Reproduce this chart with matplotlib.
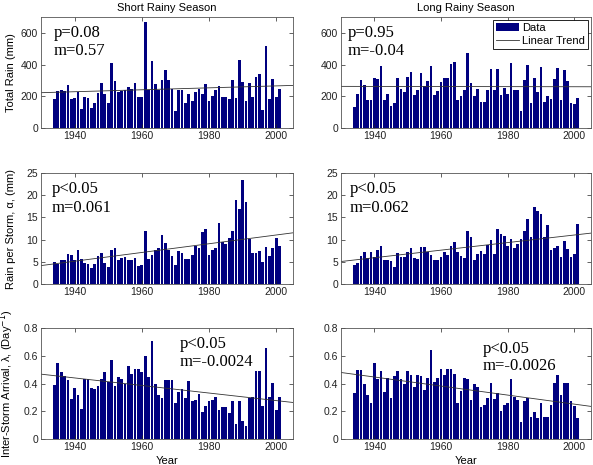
import numpy as np
import matplotlib
matplotlib.use("Agg")
import matplotlib.pyplot as plt
from matplotlib.patches import Patch
from matplotlib.lines import Line2D

plt.rcParams['font.family'] = ['Liberation Sans', 'DejaVu Sans']

years = np.arange(1934, 2002)

short_total = [181, 234, 240, 234, 270, 181, 187, 230, 117, 198, 191, 128, 155, 223,
               281, 213, 160, 411, 294, 228, 234, 240, 260, 249, 281, 196, 196,
               670, 240, 421, 277, 240, 302, 366, 302, 249, 106, 238, 238, 155,
               217, 170, 230, 249, 213, 277, 168, 202, 238, 266, 194, 194, 181,
               304, 189, 430, 289, 168, 283, 198, 323, 338, 111, 517, 181, 309,
               198, 249]
long_total = [131, 216, 300, 270, 178, 174, 317, 306, 392, 178, 216, 139, 156, 317,
              246, 225, 324, 354, 206, 242, 349, 268, 296, 392, 210, 231, 289,
              317, 317, 403, 414, 178, 204, 242, 472, 281, 199, 246, 161, 161,
              242, 375, 242, 371, 210, 253, 214, 409, 238, 238, 109, 302, 397,
              156, 315, 227, 382, 161, 204, 182, 311, 377, 178, 364, 296, 156,
              152, 189]
short_alpha = [4.85, 4.6, 5.4, 5.4, 6.7, 6.5, 5.4, 7.7, 5.6, 4.7, 4.5, 3.6, 4.5, 6.2,
               6.9, 4.7, 3.9, 7.7, 8.2, 5.4, 5.8, 6.0, 5.4, 5.4, 5.8, 4.1, 4.3,
               11.9, 5.6, 6.5, 7.6, 8.0, 11.0, 9.2, 7.6, 6.3, 4.3, 7.5, 7.0, 5.6,
               5.6, 6.6, 8.6, 8.2, 11.7, 12.3, 6.6, 7.7, 8.2, 13.8, 9.5, 9.0, 10.3,
               11.9, 18.9, 16.8, 23.4, 18.4, 10.2, 6.9, 6.9, 7.5, 4.85, 8.4, 6.3,
               8.2, 10.3, 8.6]
long_alpha = [4.2, 4.7, 6.4, 7.3, 5.8, 7.1, 6.1, 7.6, 8.6, 5.5, 5.3, 5.1, 3.9, 7.0,
              6.1, 6.1, 7.2, 8.1, 5.8, 5.6, 8.4, 8.3, 7.3, 6.6, 5.5, 5.5, 6.0,
              7.3, 6.6, 8.5, 9.4, 7.3, 6.4, 5.8, 11.9, 10.6, 5.5, 6.8, 7.5, 6.7,
              8.7, 9.8, 6.7, 12.5, 11.3, 10.9, 8.5, 10.2, 8.1, 8.9, 10.2, 11.9,
              14.6, 10.5, 17.3, 16.4, 15.7, 10.5, 13.4, 7.7, 8.1, 8.6, 6.0, 9.6,
              7.9, 6.1, 6.8, 13.6]
short_lambda = [0.39, 0.548, 0.485, 0.456, 0.427, 0.291, 0.371, 0.315, 0.218, 0.436,
                0.436, 0.371, 0.359, 0.383, 0.436, 0.485, 0.412, 0.570, 0.383, 0.448,
                0.436, 0.40, 0.524, 0.468, 0.504, 0.504, 0.485, 0.60, 0.448, 0.703,
                0.395, 0.315, 0.293, 0.427, 0.427, 0.427, 0.262, 0.339, 0.359, 0.293,
                0.415, 0.274, 0.281, 0.327, 0.196, 0.238, 0.274, 0.281, 0.303, 0.206,
                0.230, 0.230, 0.184, 0.274, 0.109, 0.274, 0.128, 0.092, 0.298, 0.303,
                0.492, 0.492, 0.238, 0.657, 0.303, 0.402, 0.206, 0.303]
long_lambda = [0.33, 0.494, 0.494, 0.393, 0.316, 0.263, 0.549, 0.429, 0.487, 0.342,
               0.439, 0.294, 0.451, 0.487, 0.434, 0.393, 0.487, 0.458, 0.373, 0.463,
               0.451, 0.354, 0.441, 0.639, 0.414, 0.439, 0.506, 0.458, 0.506, 0.506,
               0.470, 0.260, 0.349, 0.441, 0.429, 0.284, 0.393, 0.378, 0.229, 0.248,
               0.294, 0.405, 0.287, 0.330, 0.205, 0.246, 0.260, 0.429, 0.306, 0.284,
               0.120, 0.272, 0.294, 0.161, 0.198, 0.152, 0.260, 0.161, 0.161, 0.248,
               0.402, 0.458, 0.316, 0.402, 0.402, 0.272, 0.241, 0.152]

titles = ["Short Rainy Season", "Long Rainy Season"]
ylabels = ["Total Rain (mm)", "Rain per Storm, α, (mm)",
           "Inter-Storm Arrival, λ, (Day$^{-1}$)"]
yticks = [[0, 200, 400, 600], [0, 5, 10, 15, 20, 25], [0, 0.2, 0.4, 0.6, 0.8]]
yticklabels = [["0", "200", "400", "600"], ["0", "5", "10", "15", "20", "25"],
               ["0", "0.2", "0.4", "0.6", "0.8"]]
ylims = [(0, 700), (0, 25), (0, 0.8)]
xticks = [1940, 1960, 1980, 2000]
xlim = (1930, 2005)
stats = [[("p=0.08", "m=0.57"), ("p=0.95", "m=-0.04")],
         [("p<0.05", "m=0.061"), ("p<0.05", "m=0.062")],
         [("p<0.05", "m=-0.0024"), ("p<0.05", "m=-0.0026")]]
data = [[short_total, long_total], [short_alpha, long_alpha],
        [short_lambda, long_lambda]]

# text placement (axes fraction): x, baseline1, baseline2
text_pos = [[(0.049, 0.82, 0.658), (0.028, 0.82, 0.658)],
            [(0.043, 0.82, 0.65), (0.033, 0.82, 0.65)],
            [(0.549, 0.817, 0.658), (0.567, 0.778, 0.625)]]

W, H = 593, 465
fig = plt.figure(figsize=(W / 100, H / 100), dpi=100)
col_left = [41 / W, 341 / W]
col_w = [252 / W, 250 / W]
row_top = [17, 173, 328]
row_h = 111

bar_color = "#00007F"
for r in range(3):
    for c in range(2):
        ax = fig.add_axes([col_left[c], 1 - (row_top[r] + row_h) / H,
                           col_w[c], row_h / H])
        vals = np.array(data[r][c], dtype=float)
        ax.bar(years, vals, width=0.8, color=bar_color, edgecolor='none')
        coef = np.polyfit(years, vals, 1)
        xx = np.array(xlim, dtype=float)
        ax.plot(xx, np.polyval(coef, xx), color="#333333", lw=0.6)
        ax.set_xlim(*xlim)
        ax.set_ylim(*ylims[r])
        ax.set_xticks(xticks)
        ax.set_xticklabels([str(t) for t in xticks], fontsize=7.5)
        ax.set_yticks(yticks[r])
        ax.set_yticklabels(yticklabels[r], fontsize=7.5)
        ax.tick_params(direction='in', length=3, width=0.5, top=True, right=True,
                       pad=2, colors='#222222')
        for s in ax.spines.values():
            s.set_linewidth(0.6)
            s.set_color('#555555')
        tx, b1, b2 = text_pos[r][c]
        ax.text(tx, b1, stats[r][c][0], transform=ax.transAxes,
                family=['Liberation Serif', 'DejaVu Serif'], fontsize=12,
                va='baseline', ha='left')
        ax.text(tx, b2, stats[r][c][1], transform=ax.transAxes,
                family=['Liberation Serif', 'DejaVu Serif'], fontsize=12,
                va='baseline', ha='left')
        if r == 0:
            ax.set_title(titles[c], fontsize=8, pad=4)
        if c == 0:
            ax.set_ylabel(ylabels[r], fontsize=8)
            ax.yaxis.set_label_coords(-0.098, 0.5)
        if r == 2:
            ax.set_xlabel("Year", fontsize=8, labelpad=3)
        if r == 0 and c == 1:
            handles = [Patch(facecolor=bar_color, edgecolor='none'),
                       Line2D([0], [0], color="#333333", lw=0.6)]
            leg = ax.legend(handles, ["Data", "Linear Trend"], loc='upper right',
                            fontsize=8, fancybox=False, framealpha=1,
                            edgecolor='black', borderaxespad=0.25,
                            handlelength=2.0, handletextpad=0.3,
                            borderpad=0.3, labelspacing=0.25)
            leg.get_frame().set_linewidth(0.6)

fig.savefig("out.png", dpi=100)
